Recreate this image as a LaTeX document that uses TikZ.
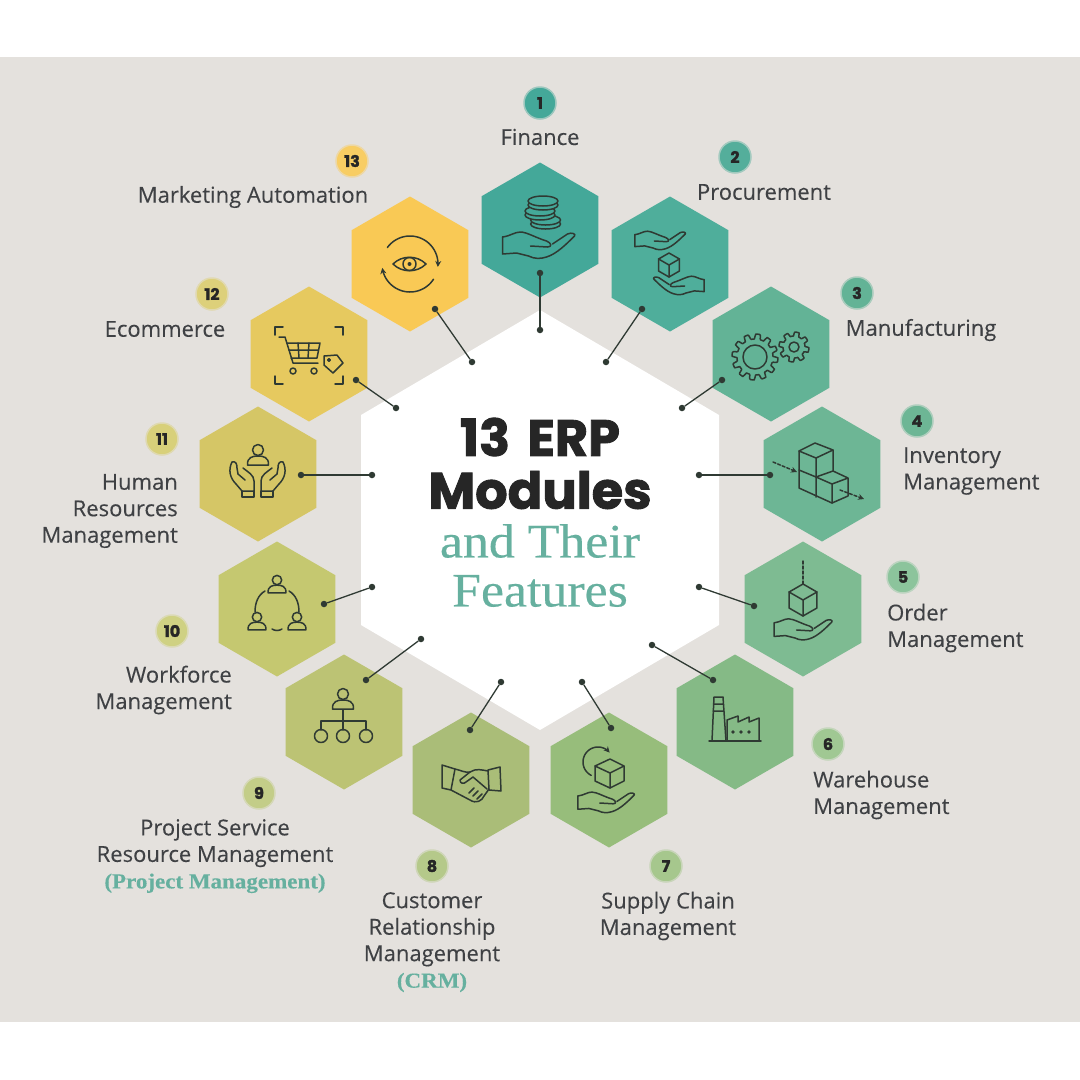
\documentclass[tikz,border=0pt]{standalone}
\usepackage{xcolor}
\usepackage{fontspec}
\usepackage{tikz}
\usetikzlibrary{shapes.geometric, arrows, arrows.meta, positioning}

\setmainfont[FakeBold=0.2]{Open Sans}
\newfontfamily\headfont[BoldFeatures={FakeBold=1.7}]{Poppins}
\newfontfamily\seriffont[FakeStretch=1.08, FakeBold=0.3]{Liberation Serif}

\definecolor{paper}{HTML}{E4E1DD}
\definecolor{inkline}{HTML}{2F3A33}
\definecolor{labeltone}{HTML}{3F4144}
\definecolor{tealtone}{HTML}{66B09F}
\definecolor{mod1}{HTML}{44A899}
\definecolor{mod2}{HTML}{4FAE9B}
\definecolor{mod3}{HTML}{63B396}
\definecolor{mod4}{HTML}{6DB695}
\definecolor{mod5}{HTML}{7EBB92}
\definecolor{mod6}{HTML}{85BA86}
\definecolor{mod7}{HTML}{97BD7B}
\definecolor{mod8}{HTML}{AABD78}
\definecolor{mod9}{HTML}{BCC374}
\definecolor{mod10}{HTML}{C5C870}
\definecolor{mod11}{HTML}{D5C666}
\definecolor{mod12}{HTML}{E6C95F}
\definecolor{mod13}{HTML}{F9C955}

\tikzset{
	hexa/.style={regular polygon, regular polygon sides=6, shape border rotate=30, minimum size=135pt, inner sep=0pt},
	pinpoint/.style={circle, fill=inkline, minimum size=6.5pt, inner sep=0pt},
	link/.style={draw=inkline, line width=1.3pt},
	badge/.style={circle, minimum size=32pt, inner sep=0pt, line width=1.5pt,
		font=\headfont\bfseries\fontsize{16}{16}\selectfont, text=black!85},
	modlabel/.style={font=\fontsize{22}{26.5}\selectfont, text=labeltone, inner sep=0pt},
	titleblack/.style={font=\headfont\bfseries\fontsize{51}{51}\selectfont, text=black!85, inner sep=0pt},
	titleteal/.style={font=\seriffont\fontsize{48}{48}\selectfont, text=tealtone, inner sep=0pt},
	handpic/.pic={
		\draw (-36,-9) .. controls (-28,-10) and (-24,-14) .. (-18,-14) .. controls (-12,-14) and (-2,-8) .. (8,-5) .. controls (13,-3) and (14,1) .. (9,1) -- (-8,0);
		\draw (14,-2) -- (29,-12) .. controls (33,-14) and (38,-12) .. (36,-10) .. controls (28,-2) and (18,8) .. (8,11) .. controls (2,13) and (-4,13) .. (-10,10) -- (-22,7) -- (-36,8) -- (-36,-9);
	},
	cubepic/.pic={
		\draw (0,-10) -- (8.7,-5) -- (8.7,5) -- (0,10) -- (-8.7,5) -- (-8.7,-5) -- cycle;
		\draw (-8.7,-5) -- (0,0) -- (8.7,-5) (0,0) -- (0,10);
	},
	personpic/.pic={
		\draw (0,-7) circle [radius=5.5];
		\draw (-10.5,8) .. controls (-11,0) and (-5,-1) .. (0,-1) .. controls (5,-1) and (11,0) .. (10.5,8) -- cycle;
	},
	cuphand/.pic={
		\draw (-26,-12) .. controls (-30,-4) and (-28,4) .. (-22,10) -- (-16,17) -- (-4,17) -- (-4,7) .. controls (-4,1) and (-10,-2) .. (-15,-6);
		\draw (-26,-12) .. controls (-22,-13) and (-21,-10) .. (-21,-6) -- (-20,0) -- (-13,6);
		\draw (-16,17) -- (-16,23) -- (-4,23) -- (-4,17);
	}
}

% x y radius depth teeth
\newcommand{\gearline}[5]{
	\draw plot[domain=0:360, samples=181, variable=\t]
		({#1+(#3+#4*max(-1,min(1,3*sin(#5*\t))))*cos(\t)},{#2+(#3+#4*max(-1,min(1,3*sin(#5*\t))))*sin(\t)});
}

\newcommand{\bluenote}[1]{{\seriffont\bfseries\fontsize{21.3}{26.5}\selectfont\color{tealtone}#1}}

\begin{document}
\begin{tikzpicture}[x=1pt, y=-1pt, >={Stealth[length=6pt, width=6pt]}]
	\useasboundingbox (0,0) rectangle (1080,1080);
	\fill[white] (0,0) rectangle (1080,1080);
	\fill[paper] (0,57) rectangle (1080,1022);
	\fill[white] (540,310) -- (719,415) -- (719,625) -- (540,730) -- (361,625) -- (361,415) -- cycle;

	% hexagons
	\foreach \n/\x/\y in {1/540/230, 2/670/264, 3/771/354, 4/822/474, 5/803/609, 6/735/722, 7/609/780,
		8/471/780, 9/344/722, 10/277/609, 11/258/474, 12/309/354, 13/410/264}
		\node[hexa, fill=mod\n] (hex\n) at (\x,\y) {};

	% connectors
	\foreach \n/\ax/\ay/\bx/\by in {1/540/273/540/330, 2/642/309/606/362, 3/722/380/682/408, 4/770/475/699/475,
		5/754/606/699/587, 6/713/680/652/645, 7/611/728/582/682, 8/470/730/501/682, 9/366/680/421/639,
		10/324/604/372/587, 11/301/475/372/475, 12/356/380/396/408, 13/435/309/472/362}
	{
		\node[pinpoint] (inner\n) at (\ax,\ay) {};
		\node[pinpoint] (outer\n) at (\bx,\by) {};
		\draw[link] (inner\n) -- (outer\n);
	}

	% numbers
	\foreach \n/\x/\y/\tone in {1/540/103/44A899, 2/735/157/54AE9B, 3/857/293/63B396, 4/917/421/6DB695,
		5/903/577/8CC49C, 6/828/744/A0C893, 7/666/866/A6C78D, 8/432/866/B5C98A, 9/259/793/C3CD88,
		10/172/631/CFD183, 11/162/439/D8D07A, 12/212/294/DDD07A, 13/352/161/F8CD63}
	{
		\definecolor{tone}{HTML}{\tone}
		\node[badge, fill=tone, draw=tone!45!paper] (num\n) at (\x,\y) {\n};
	}

	% title
	\node[titleblack] (title1) at (540,437) {13\hspace{.34em}ERP};
	\node[titleblack] (title2) at (540,490) {Modules};
	\node[titleteal] (title3) at (540,541) {and Their};
	\node[titleteal] (title4) at (540,591) {Features};

	% labels
	\node[modlabel] (finance) at (540,137) {Finance};
	\node[modlabel] (procure) at (764,192) {Procurement};
	\node[modlabel] (manufact) at (921,330) {Manufacturing};
	\node[modlabel, align=left, anchor=west] (inventory) at (903,471) {Inventory\\Management};
	\node[modlabel, align=left, anchor=west] (order) at (887,628) {Order\\Management};
	\node[modlabel, align=left, anchor=west] (warehouse) at (813,795) {Warehouse\\Management};
	\node[modlabel, align=center] (supply) at (668,916) {Supply Chain\\Management};
	\node[modlabel, align=center, anchor=north] (crm) at (432,892) {Customer\\Relationship\\Management\\\bluenote{(CRM)}};
	\node[modlabel, align=center, anchor=north] (project) at (215,819) {Project Service\\Resource Management\\\bluenote{(Project Management)}};
	\node[modlabel, align=right, anchor=east] (workforce) at (232,690) {Workforce\\Management};
	\node[modlabel, align=right, anchor=east] (human) at (178,511) {Human\\Resources\\Management};
	\node[modlabel] (ecommerce) at (165,329) {Ecommerce};
	\node[modlabel] (marketing) at (253,197) {Marketing Automation};

	% icons
	\begin{scope}[draw=inkline, line width=1.5pt, line join=round, line cap=round]
		% finance
		\foreach \cx/\cy in {545.6/222, 540/213, 543/203}
		{
			\draw[fill=mod1] (\cx,\cy+2) ellipse [x radius=15, y radius=5];
			\draw[fill=mod1] (\cx,\cy-2) ellipse [x radius=15, y radius=5];
		}
		\pic at (538.5,246) {handpic};
		% procurement
		\pic[scale=.7] at (660,241) {handpic};
		\pic[xscale=-.7, yscale=.7] at (679,286) {handpic};
		\pic[scale=1.2] at (669,265) {cubepic};
		% manufacturing
		\gearline{755}{357}{20.5}{2.5}{12}
		\draw (755,357) circle [radius=12];
		\gearline{794}{347}{13}{2}{8}
		\draw (794,347) circle [radius=5];
		% inventory
		\draw (815,443) -- (833,450) -- (816,458) -- (799,451) -- cycle;
		\draw (799,451) -- (799,488) -- (832,503) -- (848,496) -- (848,478) -- (833,471) -- (816,477) -- (832,484) -- (848,478);
		\draw (816,458) -- (816,497) (833,450) -- (833,471) (832,484) -- (832,503) (799,470) -- (816,477);
		\draw[densely dashed, ->] (773,462) -- (797,472);
		\draw[densely dashed, ->] (840,490) -- (864,499);
		% order
		\pic[scale=1.6] at (803,600) {cubepic};
		\draw[densely dashed] (803,561) -- (803,585);
		\pic[scale=.8] at (803,630) {handpic};
		% warehouse
		\draw (709,741) -- (761,741);
		\draw (712,741) -- (714,697) -- (723,697) -- (726,741) (714,704) -- (723,704) (713,711) -- (724,711);
		\draw (727,741) -- (727,720) -- (738,716) -- (738,722) -- (749,717) -- (749,722) -- (759,718) -- (759,741);
		\foreach \dotx in {733,741,749}
			\fill[inkline] (\dotx,732) circle [radius=1.8];
		% supply chain
		\draw[<-] plot[domain=321:117, samples=30] ({598+15*cos(\x)},{762+15*sin(\x)});
		\draw[fill=mod7] (610,759) -- (624,766) -- (624,781) -- (610,788) -- (595,781) -- (595,766) -- cycle;
		\draw (595,766) -- (610,773) -- (624,766) (610,773) -- (610,788);
		\pic[scale=.78] at (606,803) {handpic};
		% crm
		\draw (442,765) -- (455,769) -- (451,790) -- (442,788) -- cycle;
		\draw (500,767) -- (488,770) -- (489,790) -- (501,791) -- cycle;
		\draw (455,769) .. controls (460,770) and (465,773) .. (470,772) .. controls (476,768) and (482,770) .. (488,771);
		\draw (470,772) -- (460,780) .. controls (460,784) and (464,784) .. (466,782) -- (473,777) -- (487,789);
		\draw (451,790) -- (470,800) .. controls (476,804) and (482,801) .. (484,796) -- (489,789);
		\draw (469,793) -- (474,788) (473,796) -- (478,791) (477,799) -- (482,794);
		% project service
		\pic[scale=1] at (343,701) {personpic};
		\draw (343,710) -- (343,730) (321,730) -- (321,721) -- (366,721) -- (366,730);
		\foreach \cx in {321,343,366}
			\draw (\cx,736) circle [radius=6.5];
		% workforce
		\pic[scale=.85] at (277,586) {personpic};
		\pic[scale=.85] at (257,623) {personpic};
		\pic[scale=.85] at (297,623) {personpic};
		\draw (265,591) .. controls (258,595) and (255,603) .. (255,612);
		\draw (289,591) .. controls (296,595) and (299,603) .. (299,612);
		\draw (272,629) .. controls (275,631) and (279,631) .. (282,629);
		% human resources
		\pic at (258,457) {personpic};
		\pic at (258,474) {cuphand};
		\pic[xscale=-1] at (257,474) {cuphand};
		% ecommerce
		\draw (275,335) -- (275,327) -- (283,327) (335,327) -- (343,327) -- (343,335);
		\draw (275,376) -- (275,384) -- (283,384) (335,384) -- (343,384) -- (343,376);
		\draw (279,337) -- (285,337) -- (293,363) -- (318,363);
		\draw (287,343) -- (320,343) -- (317,358) -- (291,358);
		\draw (289,350) -- (318,350) (298,343) -- (299,358) (309,343) -- (308,358);
		\draw (293,371) circle [radius=3] (314,371) circle [radius=3];
		\draw (324,356) -- (337,355) -- (343,363) -- (333,373) -- (324,365) -- cycle;
		\draw (329,360) circle [radius=1.3];
		% marketing
		\draw[->] plot[domain=216:366, samples=30] ({410+28*cos(\x)},{264+28*sin(\x)});
		\draw[->] plot[domain=33:172, samples=30] ({410+28*cos(\x)},{264+28*sin(\x)});
		\draw (393,264) .. controls (402,255) and (417,255) .. (426,264) .. controls (417,273) and (402,273) .. (393,264) -- cycle;
		\draw (409.5,264) circle [radius=6.5];
		\fill[inkline] (409.5,264) circle [radius=2];
	\end{scope}
\end{tikzpicture}
\end{document}
